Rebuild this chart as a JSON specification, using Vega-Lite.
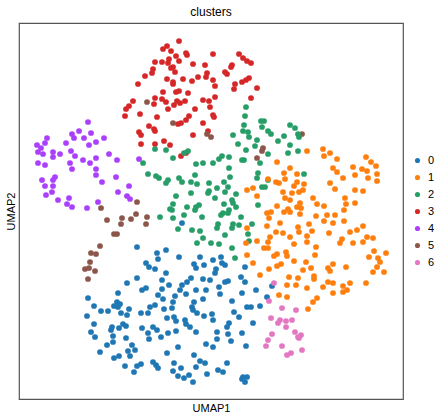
{
"$schema": "https://vega.github.io/schema/vega-lite/v6.json",
"width": 384, "height": 376,
"autosize": {"type": "none"},
"padding": {"left": 19, "top": 23, "right": 36, "bottom": 21},
"title": {"text": "clusters", "font": "Liberation Sans", "fontSize": 12, "fontWeight": "normal", "color": "#000", "offset": 4, "anchor": "middle"},
"config": {"view": {"stroke": "#555", "strokeWidth": 1.2}, "font": "Liberation Sans"},
"datasets": {"pts": [
{"x":179,"y":41,"c":"3"},{"x":167,"y":46,"c":"3"},{"x":163,"y":49,"c":"3"},{"x":171,"y":51,"c":"3"},{"x":186,"y":53,"c":"3"},{"x":187,"y":55,"c":"3"},{"x":176,"y":56,"c":"3"},{"x":213,"y":54,"c":"3"},{"x":169,"y":59,"c":"3"},{"x":179,"y":61,"c":"3"},{"x":155,"y":62,"c":"3"},{"x":162,"y":62,"c":"3"},{"x":168,"y":63,"c":"3"},{"x":193,"y":64,"c":"3"},{"x":205,"y":65,"c":"3"},{"x":173,"y":67,"c":"3"},{"x":171,"y":68,"c":"3"},{"x":153,"y":69,"c":"3"},{"x":175,"y":72,"c":"3"},{"x":152,"y":73,"c":"3"},{"x":207,"y":73,"c":"3"},{"x":206,"y":77,"c":"3"},{"x":145,"y":76,"c":"3"},{"x":167,"y":79,"c":"3"},{"x":183,"y":79,"c":"3"},{"x":192,"y":81,"c":"3"},{"x":198,"y":77,"c":"3"},{"x":213,"y":80,"c":"3"},{"x":173,"y":82,"c":"3"},{"x":173,"y":84,"c":"3"},{"x":138,"y":84,"c":"3"},{"x":215,"y":86,"c":"3"},{"x":163,"y":92,"c":"3"},{"x":176,"y":92,"c":"3"},{"x":179,"y":91,"c":"3"},{"x":188,"y":93,"c":"3"},{"x":155,"y":98,"c":"3"},{"x":162,"y":99,"c":"3"},{"x":166,"y":102,"c":"3"},{"x":177,"y":101,"c":"3"},{"x":185,"y":101,"c":"3"},{"x":203,"y":100,"c":"3"},{"x":209,"y":101,"c":"3"},{"x":215,"y":97,"c":"3"},{"x":133,"y":101,"c":"3"},{"x":129,"y":106,"c":"3"},{"x":126,"y":109,"c":"3"},{"x":154,"y":104,"c":"3"},{"x":174,"y":105,"c":"3"},{"x":180,"y":103,"c":"3"},{"x":195,"y":109,"c":"3"},{"x":210,"y":107,"c":"3"},{"x":168,"y":109,"c":"3"},{"x":140,"y":114,"c":"3"},{"x":125,"y":116,"c":"3"},{"x":157,"y":117,"c":"3"},{"x":189,"y":116,"c":"3"},{"x":186,"y":120,"c":"3"},{"x":213,"y":115,"c":"3"},{"x":214,"y":117,"c":"3"},{"x":178,"y":124,"c":"3"},{"x":181,"y":123,"c":"3"},{"x":203,"y":123,"c":"3"},{"x":149,"y":126,"c":"3"},{"x":154,"y":129,"c":"3"},{"x":155,"y":131,"c":"3"},{"x":139,"y":132,"c":"3"},{"x":141,"y":135,"c":"3"},{"x":193,"y":135,"c":"3"},{"x":208,"y":131,"c":"3"},{"x":155,"y":144,"c":"3"},{"x":170,"y":145,"c":"3"},{"x":141,"y":144,"c":"3"},{"x":164,"y":141,"c":"3"},{"x":181,"y":156,"c":"3"},{"x":186,"y":153,"c":"3"},
{"x":239,"y":54,"c":"3"},{"x":243,"y":58,"c":"3"},{"x":247,"y":61,"c":"3"},{"x":251,"y":63,"c":"3"},{"x":232,"y":65,"c":"3"},{"x":231,"y":67,"c":"3"},{"x":225,"y":72,"c":"3"},{"x":227,"y":74,"c":"3"},{"x":249,"y":78,"c":"3"},{"x":246,"y":80,"c":"3"},{"x":242,"y":82,"c":"3"},{"x":235,"y":84,"c":"3"},{"x":234,"y":89,"c":"3"},{"x":257,"y":88,"c":"3"},{"x":251,"y":98,"c":"3"},
{"x":147,"y":102,"c":"5"},{"x":173,"y":123,"c":"5"},{"x":207,"y":134,"c":"5"},{"x":211,"y":137,"c":"5"},{"x":137,"y":202,"c":"5"},{"x":101,"y":208,"c":"5"},{"x":302,"y":134,"c":"5"},{"x":263,"y":148,"c":"5"},{"x":262,"y":151,"c":"5"},{"x":257,"y":158,"c":"5"},{"x":107,"y":220,"c":"5"},{"x":122,"y":218,"c":"5"},{"x":131,"y":219,"c":"5"},{"x":136,"y":214,"c":"5"},{"x":147,"y":217,"c":"5"},{"x":146,"y":224,"c":"5"},{"x":121,"y":224,"c":"5"},{"x":114,"y":234,"c":"5"},{"x":117,"y":234,"c":"5"},{"x":100,"y":246,"c":"5"},{"x":91,"y":253,"c":"5"},{"x":96,"y":254,"c":"5"},{"x":90,"y":262,"c":"5"},{"x":85,"y":269,"c":"5"},{"x":89,"y":268,"c":"5"},{"x":95,"y":271,"c":"5"},{"x":88,"y":279,"c":"5"},
{"x":88,"y":122,"c":"4"},{"x":79,"y":131,"c":"4"},{"x":72,"y":134,"c":"4"},{"x":74,"y":138,"c":"4"},{"x":84,"y":138,"c":"4"},{"x":91,"y":133,"c":"4"},{"x":104,"y":138,"c":"4"},{"x":47,"y":138,"c":"4"},{"x":45,"y":143,"c":"4"},{"x":37,"y":145,"c":"4"},{"x":41,"y":148,"c":"4"},{"x":66,"y":143,"c":"4"},{"x":89,"y":145,"c":"4"},{"x":96,"y":142,"c":"4"},{"x":71,"y":151,"c":"4"},{"x":38,"y":152,"c":"4"},{"x":43,"y":154,"c":"4"},{"x":53,"y":152,"c":"4"},{"x":53,"y":157,"c":"4"},{"x":60,"y":154,"c":"4"},{"x":75,"y":156,"c":"4"},{"x":83,"y":160,"c":"4"},{"x":90,"y":163,"c":"4"},{"x":96,"y":158,"c":"4"},{"x":109,"y":154,"c":"4"},{"x":117,"y":160,"c":"4"},{"x":38,"y":163,"c":"4"},{"x":45,"y":165,"c":"4"},{"x":70,"y":163,"c":"4"},{"x":72,"y":169,"c":"4"},{"x":96,"y":169,"c":"4"},{"x":139,"y":159,"c":"4"},{"x":96,"y":175,"c":"4"},{"x":116,"y":177,"c":"4"},{"x":55,"y":177,"c":"4"},{"x":53,"y":180,"c":"4"},{"x":42,"y":180,"c":"4"},{"x":102,"y":182,"c":"4"},{"x":45,"y":186,"c":"4"},{"x":53,"y":186,"c":"4"},{"x":129,"y":186,"c":"4"},{"x":52,"y":192,"c":"4"},{"x":46,"y":195,"c":"4"},{"x":118,"y":192,"c":"4"},{"x":127,"y":196,"c":"4"},{"x":130,"y":199,"c":"4"},{"x":58,"y":200,"c":"4"},{"x":69,"y":198,"c":"4"},{"x":67,"y":204,"c":"4"},{"x":98,"y":202,"c":"4"},{"x":72,"y":207,"c":"4"},{"x":87,"y":208,"c":"4"},
{"x":155,"y":149,"c":"2"},{"x":166,"y":150,"c":"2"},{"x":143,"y":163,"c":"2"},{"x":173,"y":158,"c":"2"},{"x":188,"y":151,"c":"2"},{"x":184,"y":153,"c":"2"},{"x":196,"y":164,"c":"2"},{"x":203,"y":163,"c":"2"},{"x":213,"y":163,"c":"2"},{"x":219,"y":159,"c":"2"},{"x":148,"y":174,"c":"2"},{"x":156,"y":176,"c":"2"},{"x":159,"y":178,"c":"2"},{"x":168,"y":180,"c":"2"},{"x":166,"y":183,"c":"2"},{"x":179,"y":178,"c":"2"},{"x":182,"y":182,"c":"2"},{"x":195,"y":175,"c":"2"},{"x":191,"y":182,"c":"2"},{"x":197,"y":184,"c":"2"},{"x":209,"y":183,"c":"2"},{"x":209,"y":191,"c":"2"},{"x":217,"y":188,"c":"2"},{"x":208,"y":193,"c":"2"},{"x":191,"y":193,"c":"2"},{"x":176,"y":196,"c":"2"},{"x":215,"y":198,"c":"2"},{"x":173,"y":204,"c":"2"},{"x":199,"y":205,"c":"2"},{"x":187,"y":207,"c":"2"},{"x":196,"y":207,"c":"2"},{"x":170,"y":209,"c":"2"},
{"x":246,"y":107,"c":"2"},{"x":245,"y":116,"c":"2"},{"x":261,"y":121,"c":"2"},{"x":264,"y":121,"c":"2"},{"x":262,"y":127,"c":"2"},{"x":244,"y":125,"c":"2"},{"x":243,"y":131,"c":"2"},{"x":248,"y":132,"c":"2"},{"x":268,"y":131,"c":"2"},{"x":271,"y":134,"c":"2"},{"x":290,"y":125,"c":"2"},{"x":295,"y":128,"c":"2"},{"x":298,"y":134,"c":"2"},{"x":299,"y":137,"c":"2"},{"x":284,"y":136,"c":"2"},{"x":233,"y":135,"c":"2"},{"x":249,"y":137,"c":"2"},{"x":257,"y":140,"c":"2"},{"x":278,"y":141,"c":"2"},{"x":255,"y":146,"c":"2"},{"x":238,"y":144,"c":"2"},{"x":290,"y":145,"c":"2"},{"x":246,"y":150,"c":"2"},{"x":268,"y":154,"c":"2"},{"x":288,"y":153,"c":"2"},{"x":298,"y":151,"c":"2"},{"x":244,"y":160,"c":"2"},{"x":242,"y":160,"c":"2"},{"x":260,"y":163,"c":"2"},{"x":229,"y":157,"c":"2"},{"x":229,"y":168,"c":"2"},{"x":222,"y":156,"c":"2"},{"x":230,"y":177,"c":"2"},{"x":258,"y":173,"c":"2"},{"x":257,"y":178,"c":"2"},{"x":268,"y":180,"c":"2"},{"x":304,"y":174,"c":"2"},{"x":262,"y":187,"c":"2"},{"x":265,"y":187,"c":"2"},{"x":228,"y":187,"c":"2"},{"x":224,"y":182,"c":"2"},{"x":225,"y":192,"c":"2"},{"x":236,"y":194,"c":"2"},{"x":232,"y":200,"c":"2"},{"x":233,"y":203,"c":"2"},{"x":236,"y":207,"c":"2"},{"x":258,"y":205,"c":"2"},{"x":224,"y":204,"c":"2"},
{"x":160,"y":217,"c":"2"},{"x":172,"y":210,"c":"2"},{"x":173,"y":218,"c":"2"},{"x":184,"y":215,"c":"2"},{"x":195,"y":210,"c":"2"},{"x":202,"y":217,"c":"2"},{"x":178,"y":229,"c":"2"},{"x":192,"y":230,"c":"2"},{"x":200,"y":231,"c":"2"},{"x":203,"y":238,"c":"2"},{"x":197,"y":243,"c":"2"},{"x":211,"y":243,"c":"2"},
{"x":221,"y":215,"c":"2"},{"x":223,"y":213,"c":"2"},{"x":229,"y":210,"c":"2"},{"x":228,"y":213,"c":"2"},{"x":241,"y":217,"c":"2"},{"x":252,"y":224,"c":"2"},{"x":218,"y":224,"c":"2"},{"x":217,"y":228,"c":"2"},{"x":233,"y":224,"c":"2"},{"x":232,"y":228,"c":"2"},{"x":239,"y":225,"c":"2"},{"x":248,"y":234,"c":"2"},{"x":249,"y":241,"c":"2"},{"x":225,"y":235,"c":"2"},{"x":219,"y":244,"c":"2"},{"x":232,"y":248,"c":"2"},{"x":235,"y":258,"c":"2"},
{"x":182,"y":223,"c":"0"},{"x":137,"y":247,"c":"0"},{"x":157,"y":253,"c":"0"},{"x":166,"y":250,"c":"0"},{"x":179,"y":257,"c":"0"},{"x":200,"y":257,"c":"0"},{"x":146,"y":263,"c":"0"},{"x":149,"y":267,"c":"0"},{"x":155,"y":269,"c":"0"},{"x":158,"y":259,"c":"0"},{"x":194,"y":264,"c":"0"},{"x":196,"y":268,"c":"0"},{"x":204,"y":265,"c":"0"},{"x":166,"y":273,"c":"0"},{"x":137,"y":278,"c":"0"},{"x":127,"y":283,"c":"0"},{"x":162,"y":280,"c":"0"},{"x":169,"y":285,"c":"0"},{"x":182,"y":285,"c":"0"},{"x":187,"y":282,"c":"0"},{"x":191,"y":278,"c":"0"},{"x":203,"y":279,"c":"0"},{"x":142,"y":290,"c":"0"},{"x":146,"y":288,"c":"0"},{"x":162,"y":289,"c":"0"},{"x":180,"y":290,"c":"0"},{"x":196,"y":290,"c":"0"},{"x":206,"y":290,"c":"0"},{"x":118,"y":293,"c":"0"},{"x":88,"y":298,"c":"0"},{"x":158,"y":295,"c":"0"},{"x":175,"y":296,"c":"0"},{"x":186,"y":294,"c":"0"},{"x":163,"y":299,"c":"0"},{"x":173,"y":302,"c":"0"},{"x":203,"y":299,"c":"0"},{"x":194,"y":302,"c":"0"},{"x":117,"y":302,"c":"0"},{"x":114,"y":306,"c":"0"},{"x":118,"y":307,"c":"0"},{"x":120,"y":304,"c":"0"},{"x":94,"y":306,"c":"0"},{"x":101,"y":311,"c":"0"},{"x":108,"y":311,"c":"0"},{"x":129,"y":309,"c":"0"},{"x":150,"y":307,"c":"0"},{"x":155,"y":305,"c":"0"},{"x":164,"y":309,"c":"0"},{"x":172,"y":308,"c":"0"},{"x":192,"y":307,"c":"0"},{"x":193,"y":310,"c":"0"},{"x":197,"y":313,"c":"0"},{"x":87,"y":316,"c":"0"},{"x":121,"y":313,"c":"0"},{"x":127,"y":315,"c":"0"},{"x":141,"y":313,"c":"0"},{"x":148,"y":313,"c":"0"},{"x":167,"y":318,"c":"0"},{"x":174,"y":317,"c":"0"},{"x":176,"y":321,"c":"0"},{"x":185,"y":320,"c":"0"},{"x":186,"y":324,"c":"0"},{"x":204,"y":316,"c":"0"},{"x":94,"y":324,"c":"0"},{"x":112,"y":327,"c":"0"},{"x":111,"y":330,"c":"0"},{"x":119,"y":328,"c":"0"},{"x":123,"y":324,"c":"0"},{"x":126,"y":326,"c":"0"},{"x":142,"y":328,"c":"0"},{"x":153,"y":327,"c":"0"},{"x":157,"y":330,"c":"0"},{"x":168,"y":333,"c":"0"},{"x":176,"y":331,"c":"0"},{"x":190,"y":327,"c":"0"},{"x":196,"y":332,"c":"0"},{"x":91,"y":332,"c":"0"},{"x":95,"y":337,"c":"0"},{"x":113,"y":336,"c":"0"},{"x":126,"y":338,"c":"0"},{"x":148,"y":333,"c":"0"},{"x":149,"y":339,"c":"0"},{"x":161,"y":337,"c":"0"},{"x":107,"y":345,"c":"0"},{"x":113,"y":342,"c":"0"},{"x":132,"y":345,"c":"0"},{"x":135,"y":350,"c":"0"},{"x":128,"y":351,"c":"0"},{"x":178,"y":347,"c":"0"},{"x":206,"y":344,"c":"0"},{"x":100,"y":352,"c":"0"},{"x":119,"y":356,"c":"0"},{"x":114,"y":358,"c":"0"},{"x":130,"y":356,"c":"0"},{"x":167,"y":353,"c":"0"},{"x":194,"y":355,"c":"0"},{"x":153,"y":362,"c":"0"},{"x":156,"y":365,"c":"0"},{"x":158,"y":368,"c":"0"},{"x":141,"y":364,"c":"0"},{"x":137,"y":366,"c":"0"},{"x":125,"y":366,"c":"0"},{"x":174,"y":363,"c":"0"},{"x":181,"y":368,"c":"0"},{"x":196,"y":367,"c":"0"},{"x":200,"y":361,"c":"0"},{"x":205,"y":363,"c":"0"},{"x":134,"y":372,"c":"0"},{"x":173,"y":371,"c":"0"},{"x":178,"y":376,"c":"0"},{"x":184,"y":378,"c":"0"},{"x":189,"y":375,"c":"0"},{"x":193,"y":382,"c":"0"},{"x":207,"y":374,"c":"0"},
{"x":210,"y":280,"c":"0"},{"x":212,"y":314,"c":"0"},{"x":213,"y":320,"c":"0"},{"x":217,"y":332,"c":"0"},{"x":217,"y":339,"c":"0"},{"x":213,"y":347,"c":"0"},{"x":218,"y":370,"c":"0"},
{"x":221,"y":257,"c":"0"},{"x":213,"y":260,"c":"0"},{"x":222,"y":263,"c":"0"},{"x":225,"y":265,"c":"0"},{"x":216,"y":269,"c":"0"},{"x":215,"y":273,"c":"0"},{"x":245,"y":267,"c":"0"},{"x":228,"y":281,"c":"0"},{"x":225,"y":282,"c":"0"},{"x":241,"y":277,"c":"0"},{"x":245,"y":282,"c":"0"},{"x":219,"y":287,"c":"0"},{"x":256,"y":290,"c":"0"},{"x":220,"y":294,"c":"0"},{"x":242,"y":293,"c":"0"},{"x":272,"y":286,"c":"0"},{"x":232,"y":301,"c":"0"},{"x":267,"y":297,"c":"0"},{"x":247,"y":307,"c":"0"},{"x":251,"y":307,"c":"0"},{"x":260,"y":306,"c":"0"},{"x":234,"y":312,"c":"0"},{"x":239,"y":317,"c":"0"},{"x":253,"y":323,"c":"0"},{"x":229,"y":323,"c":"0"},{"x":227,"y":327,"c":"0"},{"x":242,"y":333,"c":"0"},{"x":228,"y":334,"c":"0"},{"x":231,"y":341,"c":"0"},{"x":246,"y":346,"c":"0"},{"x":227,"y":363,"c":"0"},{"x":223,"y":372,"c":"0"},{"x":243,"y":377,"c":"0"},{"x":247,"y":377,"c":"0"},{"x":245,"y":382,"c":"0"},{"x":242,"y":379,"c":"0"},
{"x":274,"y":283,"c":"6"},{"x":269,"y":301,"c":"6"},{"x":282,"y":308,"c":"6"},{"x":296,"y":310,"c":"6"},{"x":271,"y":318,"c":"6"},{"x":280,"y":320,"c":"6"},{"x":286,"y":321,"c":"6"},{"x":292,"y":320,"c":"6"},{"x":278,"y":323,"c":"6"},{"x":286,"y":327,"c":"6"},{"x":295,"y":332,"c":"6"},{"x":272,"y":334,"c":"6"},{"x":268,"y":340,"c":"6"},{"x":298,"y":337,"c":"6"},{"x":301,"y":335,"c":"6"},{"x":299,"y":338,"c":"6"},{"x":266,"y":346,"c":"6"},{"x":282,"y":346,"c":"6"},{"x":302,"y":350,"c":"6"},{"x":291,"y":353,"c":"6"},{"x":287,"y":355,"c":"6"},
{"x":307,"y":151,"c":"1"},{"x":277,"y":162,"c":"1"},{"x":323,"y":149,"c":"1"},{"x":324,"y":156,"c":"1"},{"x":330,"y":153,"c":"1"},{"x":337,"y":159,"c":"1"},{"x":366,"y":157,"c":"1"},{"x":371,"y":162,"c":"1"},{"x":376,"y":166,"c":"1"},{"x":353,"y":167,"c":"1"},{"x":362,"y":169,"c":"1"},{"x":367,"y":171,"c":"1"},{"x":333,"y":168,"c":"1"},{"x":337,"y":172,"c":"1"},{"x":290,"y":168,"c":"1"},{"x":284,"y":173,"c":"1"},{"x":297,"y":174,"c":"1"},{"x":355,"y":175,"c":"1"},{"x":377,"y":174,"c":"1"},{"x":377,"y":181,"c":"1"},{"x":368,"y":178,"c":"1"},{"x":343,"y":178,"c":"1"},{"x":268,"y":179,"c":"1"},{"x":276,"y":182,"c":"1"},{"x":279,"y":183,"c":"1"},{"x":285,"y":179,"c":"1"},{"x":297,"y":182,"c":"1"},{"x":294,"y":186,"c":"1"},{"x":304,"y":184,"c":"1"},{"x":330,"y":183,"c":"1"},{"x":335,"y":189,"c":"1"},{"x":303,"y":190,"c":"1"},{"x":299,"y":192,"c":"1"},{"x":355,"y":190,"c":"1"},{"x":363,"y":191,"c":"1"},{"x":253,"y":188,"c":"1"},{"x":247,"y":190,"c":"1"},{"x":257,"y":196,"c":"1"},{"x":283,"y":192,"c":"1"},{"x":292,"y":193,"c":"1"},{"x":285,"y":198,"c":"1"},{"x":290,"y":200,"c":"1"},{"x":313,"y":198,"c":"1"},{"x":317,"y":204,"c":"1"},{"x":324,"y":206,"c":"1"},{"x":345,"y":198,"c":"1"},{"x":346,"y":204,"c":"1"},{"x":355,"y":203,"c":"1"},{"x":300,"y":203,"c":"1"},{"x":297,"y":207,"c":"1"},{"x":277,"y":206,"c":"1"},{"x":288,"y":209,"c":"1"},
{"x":271,"y":212,"c":"1"},{"x":301,"y":208,"c":"1"},{"x":267,"y":213,"c":"1"},{"x":284,"y":212,"c":"1"},{"x":290,"y":212,"c":"1"},{"x":269,"y":218,"c":"1"},{"x":300,"y":214,"c":"1"},{"x":316,"y":216,"c":"1"},{"x":327,"y":215,"c":"1"},{"x":335,"y":215,"c":"1"},{"x":344,"y":210,"c":"1"},{"x":324,"y":221,"c":"1"},{"x":333,"y":223,"c":"1"},{"x":309,"y":224,"c":"1"},{"x":344,"y":221,"c":"1"},{"x":267,"y":226,"c":"1"},{"x":280,"y":223,"c":"1"},{"x":298,"y":227,"c":"1"},{"x":363,"y":226,"c":"1"},{"x":357,"y":230,"c":"1"},{"x":350,"y":232,"c":"1"},{"x":247,"y":228,"c":"1"},{"x":276,"y":232,"c":"1"},{"x":283,"y":233,"c":"1"},{"x":299,"y":232,"c":"1"},{"x":312,"y":231,"c":"1"},{"x":329,"y":233,"c":"1"},{"x":342,"y":239,"c":"1"},{"x":340,"y":243,"c":"1"},{"x":353,"y":243,"c":"1"},{"x":363,"y":242,"c":"1"},{"x":367,"y":237,"c":"1"},{"x":373,"y":238,"c":"1"},{"x":270,"y":237,"c":"1"},{"x":290,"y":237,"c":"1"},{"x":307,"y":236,"c":"1"},{"x":257,"y":241,"c":"1"},{"x":268,"y":242,"c":"1"},{"x":294,"y":244,"c":"1"},{"x":307,"y":242,"c":"1"},{"x":246,"y":243,"c":"1"},{"x":264,"y":248,"c":"1"},{"x":268,"y":248,"c":"1"},{"x":316,"y":247,"c":"1"},{"x":286,"y":252,"c":"1"},{"x":287,"y":256,"c":"1"},{"x":374,"y":251,"c":"1"},{"x":277,"y":254,"c":"1"},{"x":274,"y":256,"c":"1"},{"x":294,"y":261,"c":"1"},{"x":315,"y":255,"c":"1"},{"x":247,"y":255,"c":"1"},{"x":369,"y":257,"c":"1"},{"x":378,"y":258,"c":"1"},{"x":386,"y":253,"c":"1"},{"x":380,"y":262,"c":"1"},{"x":377,"y":267,"c":"1"},{"x":384,"y":272,"c":"1"},{"x":373,"y":272,"c":"1"},{"x":253,"y":263,"c":"1"},{"x":281,"y":264,"c":"1"},{"x":277,"y":266,"c":"1"},{"x":269,"y":269,"c":"1"},{"x":306,"y":262,"c":"1"},{"x":311,"y":268,"c":"1"},{"x":303,"y":270,"c":"1"},{"x":333,"y":264,"c":"1"},{"x":328,"y":268,"c":"1"},{"x":330,"y":271,"c":"1"},{"x":346,"y":267,"c":"1"},{"x":260,"y":275,"c":"1"},{"x":289,"y":277,"c":"1"},{"x":298,"y":278,"c":"1"},{"x":314,"y":276,"c":"1"},{"x":314,"y":279,"c":"1"},{"x":328,"y":282,"c":"1"},{"x":333,"y":283,"c":"1"},{"x":350,"y":283,"c":"1"},{"x":366,"y":283,"c":"1"},{"x":287,"y":285,"c":"1"},{"x":296,"y":285,"c":"1"},{"x":307,"y":288,"c":"1"},{"x":323,"y":287,"c":"1"},{"x":343,"y":286,"c":"1"},{"x":347,"y":290,"c":"1"},{"x":343,"y":292,"c":"1"},{"x":279,"y":295,"c":"1"},{"x":287,"y":297,"c":"1"},{"x":333,"y":293,"c":"1"},{"x":317,"y":298,"c":"1"},{"x":313,"y":302,"c":"1"},{"x":308,"y":309,"c":"1"}
]},
"data": {"name": "pts"},
"mark": {"type": "point", "filled": true, "opacity": 1, "size": 33, "strokeWidth": 0},
"encoding": {
  "x": {"field": "x", "type": "quantitative", "scale": {"domain": [19, 403], "nice": false, "zero": false},
        "axis": {"title": "UMAP1", "labels": false, "ticks": false, "domain": false, "grid": false, "titleFont": "Liberation Sans", "titleFontSize": 11, "titleFontWeight": "normal", "titleColor": "#000", "titlePadding": 3}},
  "y": {"field": "y", "type": "quantitative", "scale": {"domain": [23, 399], "nice": false, "zero": false, "reverse": true},
        "axis": {"title": "UMAP2", "labels": false, "ticks": false, "domain": false, "grid": false, "titleFont": "Liberation Sans", "titleFontSize": 11, "titleFontWeight": "normal", "titleColor": "#000", "titlePadding": 3}},
  "color": {"field": "c", "type": "nominal",
    "scale": {"domain": ["0","1","2","3","4","5","6"], "range": ["#1f77b4","#ff7f0e","#279e68","#d62728","#aa40fc","#8c564b","#e377c2"]},
    "legend": {"title": null, "orient": "none", "legendX": 393, "legendY": 132, "symbolType": "circle", "symbolSize": 26, "symbolStrokeWidth": 0, "labelFont": "Liberation Sans", "labelFontSize": 11, "labelColor": "#000", "labelOffset": 5, "rowPadding": 5, "padding": 0}}
}
}
